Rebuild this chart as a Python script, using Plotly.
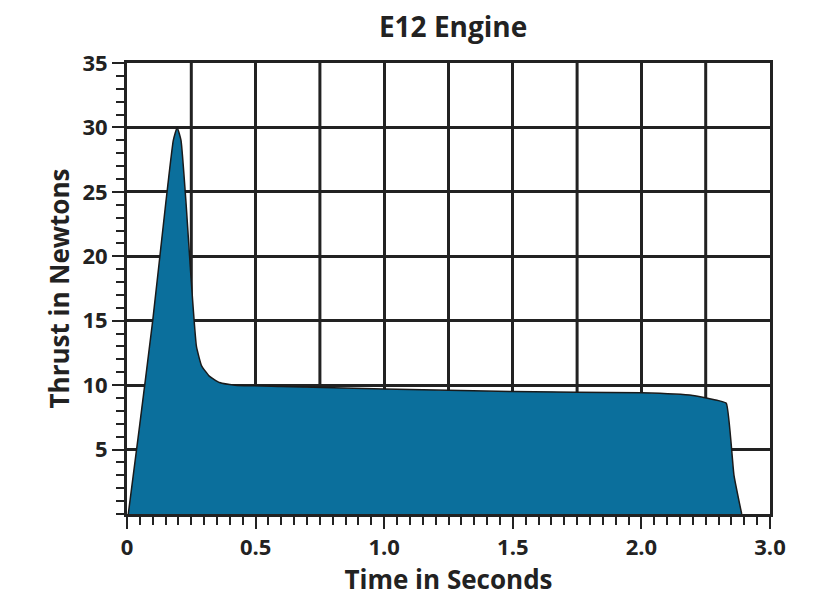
import plotly.graph_objects as go

t = [0.005,0.05,0.1,0.15,0.18,0.195,0.21,0.23,0.25,0.27,0.29,0.32,0.36,0.42,0.6,1.0,1.5,2.0,2.2,2.3,2.33,2.36,2.39]
thrust = [0,7,15,24,29,30,29,24,18,13,11.5,10.7,10.2,10.0,9.9,9.7,9.5,9.4,9.2,8.8,8.6,3,0]
x_tickvals = [0,0.5,1.0,1.5,2.0,2.5]
x_ticktext = ["0","0.5","1.0","1.5","2.0","3.0"]
y_tickvals = [5,10,15,20,25,30,35]

fig = go.Figure(go.Scatter(x=t, y=thrust, mode="lines", fill="tozeroy",
    fillcolor="#0b6f9c", line=dict(color="#1a1a1a", width=1.5, shape="spline", smoothing=0.4)))
f = dict(family="Open Sans", size=22, color="#222")
fig.update_layout(
    width=832, height=603, margin=dict(l=119, r=70, t=55, b=97),
    plot_bgcolor="white", paper_bgcolor="white", showlegend=False,
    title=dict(text="<b>E12 Engine</b>", x=0.535, y=0.985, xanchor="center", yanchor="top",
               font=dict(family="Open Sans", size=28, color="#222")),
    font=f,
    xaxis=dict(range=[0,2.5], tickvals=x_tickvals, ticktext=[f"<b>{s}</b>" for s in x_ticktext],
               showgrid=True, gridcolor="#222", gridwidth=3, ticks="outside", ticklen=12, tickwidth=2,
               tickcolor="#222", showline=True, linecolor="#222", linewidth=3, mirror=True,
               minor=dict(dtick=0.05, ticks="outside", ticklen=8, tickwidth=2, tickcolor="#222",
                          showgrid=False),
               title=dict(text="<b>Time in Seconds</b>", standoff=4), zeroline=False),
    yaxis=dict(range=[0,35], tickvals=y_tickvals, ticktext=[f"<b>{v}</b>" for v in y_tickvals],
               showgrid=True, gridcolor="#222", gridwidth=3, ticks="outside", ticklen=12, tickwidth=2,
               tickcolor="#222", showline=True, linecolor="#222", linewidth=3, mirror=True,
               minor=dict(dtick=1, ticks="outside", ticklen=8, tickwidth=2, tickcolor="#222",
                          showgrid=False),
               title=dict(text="<b>Thrust in Newtons</b>", standoff=6), zeroline=False),
)
for v in [0.25,0.75,1.25,1.75,2.25]:
    fig.add_vline(x=v, line=dict(color="#222", width=3), layer="below")
fig.write_html("out.html")
